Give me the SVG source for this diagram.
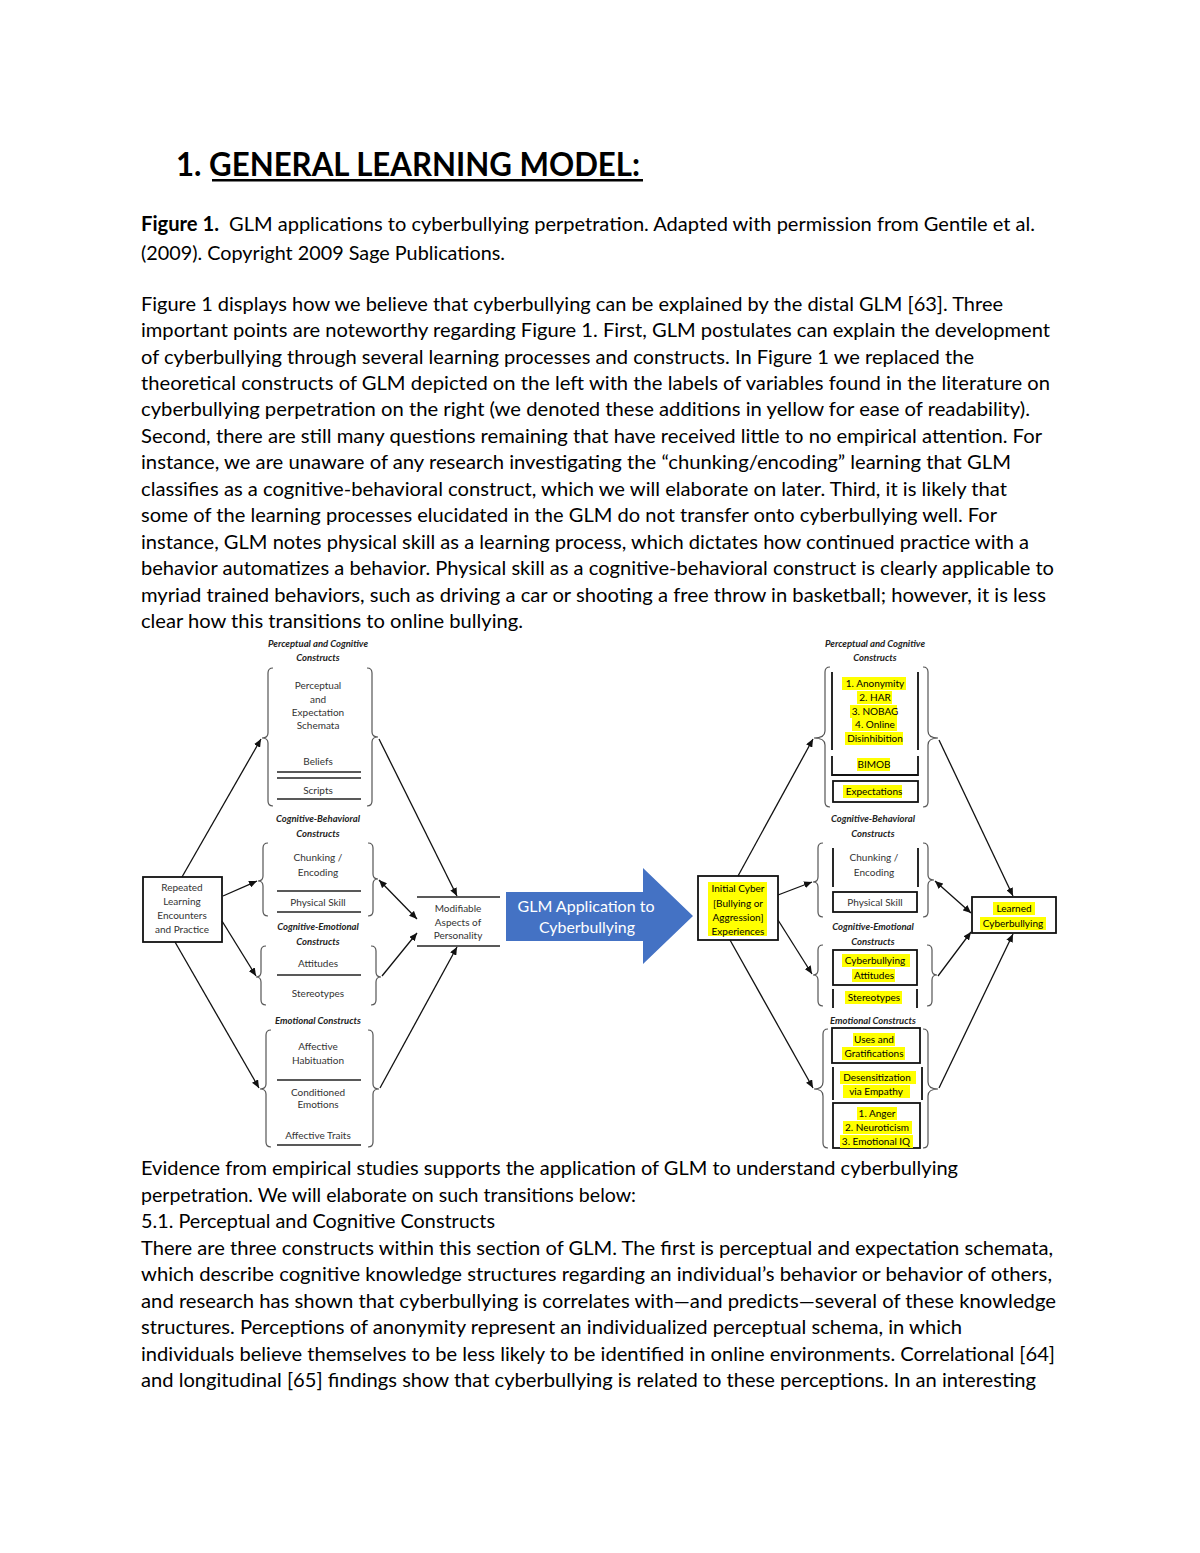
<svg xmlns="http://www.w3.org/2000/svg" width="1200" height="1553" viewBox="0 0 1200 1553">
<style>
.body{font-family:Lato,"Open Sans","Liberation Sans",sans-serif;font-size:20px;fill:#000}
.lbl{font-family:Lato,"Liberation Sans",sans-serif;font-size:10px;fill:#333;text-anchor:middle}
.lblb{font-family:Lato,"Liberation Sans",sans-serif;font-size:10px;fill:#000;text-anchor:middle}
.hdr{font-family:Lato,"Liberation Sans",sans-serif;font-size:9.5px;font-weight:bold;font-style:italic;fill:#222;text-anchor:middle}
.brace{fill:none;stroke:#555;stroke-width:1.2}
.sep{stroke:#222;stroke-width:1.4;fill:none}
.box{stroke:#111;stroke-width:1.8;fill:none}
.hl{fill:#ffff00}
.conn line{stroke:#111;stroke-width:1.3;marker-end:url(#ah)}
.conn line.both{marker-start:url(#ah)}
</style>
<defs>
<marker id="ah" markerUnits="userSpaceOnUse" markerWidth="8" markerHeight="7" refX="8" refY="3.5" orient="auto-start-reverse">
<path d="M0,0 L8,3.5 L0,7 z" fill="#111"/>
</marker>
</defs>
<rect width="1200" height="1553" fill="#fff"/>

<g id="text-top">
<text x="176" y="176" font-family="Lato,'Liberation Sans',sans-serif" font-weight="bold" font-size="31.5" textLength="464" lengthAdjust="spacingAndGlyphs">1. GENERAL LEARNING MODEL:</text>
<rect x="212" y="179" width="431" height="2.5" fill="#000"/>
<text x="141" y="231" class="body" font-weight="bold" textLength="78" lengthAdjust="spacingAndGlyphs">Figure 1.</text>
<text x="229" y="231" class="body" textLength="806" lengthAdjust="spacingAndGlyphs">GLM applications to cyberbullying perpetration. Adapted with permission from Gentile et al.</text>
<text x="141" y="260" class="body" textLength="364" lengthAdjust="spacingAndGlyphs">(2009). Copyright 2009 Sage Publications.</text>
<text x="141" y="311" class="body" textLength="862" lengthAdjust="spacingAndGlyphs">Figure 1 displays how we believe that cyberbullying can be explained by the distal GLM [63]. Three</text>
<text x="141" y="337" class="body" textLength="909" lengthAdjust="spacingAndGlyphs">important points are noteworthy regarding Figure 1. First, GLM postulates can explain the development</text>
<text x="141" y="364" class="body" textLength="833" lengthAdjust="spacingAndGlyphs">of cyberbullying through several learning processes and constructs. In Figure 1 we replaced the</text>
<text x="141" y="390" class="body" textLength="909" lengthAdjust="spacingAndGlyphs">theoretical constructs of GLM depicted on the left with the labels of variables found in the literature on</text>
<text x="141" y="416" class="body" textLength="889" lengthAdjust="spacingAndGlyphs">cyberbullying perpetration on the right (we denoted these additions in yellow for ease of readability).</text>
<text x="141" y="443" class="body" textLength="901" lengthAdjust="spacingAndGlyphs">Second, there are still many questions remaining that have received little to no empirical attention. For</text>
<text x="141" y="469" class="body" textLength="870" lengthAdjust="spacingAndGlyphs">instance, we are unaware of any research investigating the “chunking/encoding” learning that GLM</text>
<text x="141" y="496" class="body" textLength="866" lengthAdjust="spacingAndGlyphs">classifies as a cognitive-behavioral construct, which we will elaborate on later. Third, it is likely that</text>
<text x="141" y="522" class="body" textLength="856" lengthAdjust="spacingAndGlyphs">some of the learning processes elucidated in the GLM do not transfer onto cyberbullying well. For</text>
<text x="141" y="549" class="body" textLength="888" lengthAdjust="spacingAndGlyphs">instance, GLM notes physical skill as a learning process, which dictates how continued practice with a</text>
<text x="141" y="575" class="body" textLength="913" lengthAdjust="spacingAndGlyphs">behavior automatizes a behavior. Physical skill as a cognitive-behavioral construct is clearly applicable to</text>
<text x="141" y="602" class="body" textLength="905" lengthAdjust="spacingAndGlyphs">myriad trained behaviors, such as driving a car or shooting a free throw in basketball; however, it is less</text>
<text x="141" y="628" class="body" textLength="382" lengthAdjust="spacingAndGlyphs">clear how this transitions to online bullying.</text>
</g>

<g id="text-bottom">
<text x="141" y="1175" class="body" textLength="817" lengthAdjust="spacingAndGlyphs">Evidence from empirical studies supports the application of GLM to understand cyberbullying</text>
<text x="141" y="1202" class="body" textLength="495" lengthAdjust="spacingAndGlyphs">perpetration. We will elaborate on such transitions below:</text>
<text x="141" y="1228" class="body" textLength="354" lengthAdjust="spacingAndGlyphs">5.1. Perceptual and Cognitive Constructs</text>
<text x="141" y="1255" class="body" textLength="912" lengthAdjust="spacingAndGlyphs">There are three constructs within this section of GLM. The first is perceptual and expectation schemata,</text>
<text x="141" y="1281" class="body" textLength="911" lengthAdjust="spacingAndGlyphs">which describe cognitive knowledge structures regarding an individual’s behavior or behavior of others,</text>
<text x="141" y="1308" class="body" textLength="915" lengthAdjust="spacingAndGlyphs">and research has shown that cyberbullying is correlates with—and predicts—several of these knowledge</text>
<text x="141" y="1334" class="body" textLength="821" lengthAdjust="spacingAndGlyphs">structures. Perceptions of anonymity represent an individualized perceptual schema, in which</text>
<text x="141" y="1361" class="body" textLength="914" lengthAdjust="spacingAndGlyphs">individuals believe themselves to be less likely to be identified in online environments. Correlational [64]</text>
<text x="141" y="1387" class="body" textLength="895" lengthAdjust="spacingAndGlyphs">and longitudinal [65] findings show that cyberbullying is related to these perceptions. In an interesting</text>
</g>

<!-- LEFT DIAGRAM -->
<g id="left-headers">
<text x="318" y="647" class="hdr">Perceptual and Cognitive</text>
<text x="318" y="661" class="hdr">Constructs</text>
<text x="318" y="822" class="hdr">Cognitive-Behavioral</text>
<text x="318" y="837" class="hdr">Constructs</text>
<text x="318" y="930" class="hdr">Cognitive-Emotional</text>
<text x="318" y="945" class="hdr">Constructs</text>
<text x="318" y="1024" class="hdr">Emotional Constructs</text>
</g>

<g id="repeated-learning">
<rect x="143" y="877" width="79" height="65" class="box" stroke-width="1.5"/>
<text x="182" y="891" class="lbl">Repeated</text>
<text x="182" y="905" class="lbl">Learning</text>
<text x="182" y="919" class="lbl">Encounters</text>
<text x="182" y="933" class="lbl">and Practice</text>
</g>

<g id="l-perceptual">
<path class="brace" d="M273,668 Q268,668 268,673 L268,733 Q268,738 262,738 Q268,738 268,743 L268,801 Q268,806 273,806"/>
<path class="brace" d="M367,668 Q372,668 372,673 L372,732 Q372,737 378,737 Q372,737 372,742 L372,801 Q372,806 367,806"/>
<text x="318" y="689" class="lbl">Perceptual</text>
<text x="318" y="703" class="lbl">and</text>
<text x="318" y="716" class="lbl">Expectation</text>
<text x="318" y="729" class="lbl">Schemata</text>
<text x="318" y="765" class="lbl">Beliefs</text>
<line x1="277" y1="772" x2="361" y2="772" class="sep"/>
<line x1="277" y1="778" x2="361" y2="778" class="sep"/>
<text x="318" y="794" class="lbl">Scripts</text>
<line x1="277" y1="799" x2="361" y2="799" class="sep"/>
</g>

<g id="l-cogbeh">
<path class="brace" d="M268,843 Q263,843 263,848 L263,876 Q263,881 258,881 Q263,881 263,886 L263,911 Q263,916 268,916"/>
<path class="brace" d="M368,843 Q373,843 373,848 L373,874 Q373,879 378,879 Q373,879 373,884 L373,911 Q373,916 368,916"/>
<text x="318" y="861" class="lbl">Chunking /</text>
<text x="318" y="876" class="lbl">Encoding</text>
<line x1="277" y1="891" x2="361" y2="891" class="sep"/>
<text x="318" y="906" class="lbl">Physical Skill</text>
<line x1="277" y1="912" x2="361" y2="912" class="sep"/>
</g>

<g id="l-cogemo">
<path class="brace" d="M266,946 Q261,946 261,951 L261,972 Q261,977 256,977 Q261,977 261,982 L261,1000 Q261,1005 266,1005"/>
<path class="brace" d="M371,946 Q376,946 376,951 L376,972 Q376,977 381,977 Q376,977 376,982 L376,1000 Q376,1005 371,1005"/>
<text x="318" y="967" class="lbl">Attitudes</text>
<line x1="277" y1="975" x2="361" y2="975" class="sep"/>
<text x="318" y="997" class="lbl">Stereotypes</text>
</g>

<g id="l-emotional">
<path class="brace" d="M271,1030 Q266,1030 266,1035 L266,1084 Q266,1089 260,1089 Q266,1089 266,1094 L266,1142 Q266,1147 271,1147"/>
<path class="brace" d="M368,1030 Q373,1030 373,1035 L373,1084 Q373,1089 379,1089 Q373,1089 373,1094 L373,1142 Q373,1147 368,1147"/>
<text x="318" y="1050" class="lbl">Affective</text>
<text x="318" y="1064" class="lbl">Habituation</text>
<line x1="277" y1="1080" x2="361" y2="1080" class="sep"/>
<text x="318" y="1096" class="lbl">Conditioned</text>
<text x="318" y="1108" class="lbl">Emotions</text>
<text x="318" y="1139" class="lbl">Affective Traits</text>
<line x1="277" y1="1145" x2="361" y2="1145" class="sep"/>
</g>

<g id="modifiable">
<line x1="417" y1="897" x2="500" y2="897" class="sep"/>
<line x1="417" y1="946" x2="500" y2="946" class="sep"/>
<text x="458" y="912" class="lbl">Modifiable</text>
<text x="458" y="926" class="lbl">Aspects of</text>
<text x="458" y="939" class="lbl">Personality</text>
</g>

<g id="glm-arrow">
<polygon points="506,892 643,892 643,868 693,916 643,964 643,941 506,941" fill="#4472c4"/>
<text x="586" y="912" font-family="Lato,'Liberation Sans',sans-serif" font-size="16" fill="#fff" text-anchor="middle" textLength="137" lengthAdjust="spacingAndGlyphs">GLM Application to</text>
<text x="587" y="933" font-family="Lato,'Liberation Sans',sans-serif" font-size="16" fill="#fff" text-anchor="middle" textLength="96" lengthAdjust="spacingAndGlyphs">Cyberbullying</text>
</g>

<!-- RIGHT DIAGRAM -->
<g id="right-headers">
<text x="875" y="647" class="hdr">Perceptual and Cognitive</text>
<text x="875" y="661" class="hdr">Constructs</text>
<text x="873" y="822" class="hdr">Cognitive-Behavioral</text>
<text x="873" y="837" class="hdr">Constructs</text>
<text x="873" y="930" class="hdr">Cognitive-Emotional</text>
<text x="873" y="945" class="hdr">Constructs</text>
<text x="873" y="1024" class="hdr">Emotional Constructs</text>
</g>

<g id="initial-cyber">
<rect x="698" y="876" width="80" height="64" class="box"/>
<rect x="708" y="882" width="59" height="54" class="hl"/>
<text x="738" y="892" class="lblb">Initial Cyber</text>
<text x="738" y="907" class="lblb">[Bullying or</text>
<text x="738" y="921" class="lblb">Aggression]</text>
<text x="738" y="935" class="lblb">Experiences</text>
</g>

<g id="r-perceptual">
<path class="brace" d="M830,667 Q825,667 825,672 L825,731 Q825,738 814,738 Q825,738 825,745 L825,802 Q825,807 830,807"/>
<path class="brace" d="M923,667 Q928,667 928,672 L928,731 Q928,738 938,738 Q928,738 928,745 L928,802 Q928,807 923,807"/>
<path class="box" d="M832,672 L832,750 M832,756 L832,775 L918,775 L918,756 M918,750 L918,672"/>
<rect x="842" y="677" width="64" height="13" class="hl"/>
<rect x="857" y="691" width="35" height="13" class="hl"/>
<rect x="850" y="705" width="47" height="13" class="hl"/>
<rect x="852" y="718" width="45" height="13" class="hl"/>
<rect x="845" y="732" width="58" height="13" class="hl"/>
<rect x="857" y="758" width="33" height="13" class="hl"/>
<text x="875" y="687" class="lblb">1. Anonymity</text>
<text x="875" y="701" class="lblb">2. HAR</text>
<text x="875" y="715" class="lblb">3. NOBAG</text>
<text x="875" y="728" class="lblb">4. Online</text>
<text x="875" y="742" class="lblb">Disinhibition</text>
<text x="874" y="768" class="lblb">BIMOB</text>
<rect x="833" y="781" width="85" height="21" class="box"/>
<rect x="843" y="785" width="59" height="13" class="hl"/>
<text x="874" y="795" class="lblb">Expectations</text>
</g>

<g id="r-cogbeh">
<path class="brace" d="M823,843 Q818,843 818,848 L818,877 Q818,882 813,882 Q818,882 818,887 L818,912 Q818,917 823,917"/>
<path class="brace" d="M923,843 Q928,843 928,848 L928,875 Q928,880 934,880 Q928,880 928,885 L928,912 Q928,917 923,917"/>
<path class="box" d="M833,848 L833,887 M918,848 L918,887"/>
<text x="874" y="861" class="lbl">Chunking /</text>
<text x="874" y="876" class="lbl">Encoding</text>
<rect x="833" y="892" width="84" height="20" class="box"/>
<text x="875" y="906" class="lbl">Physical Skill</text>
</g>

<g id="r-cogemo">
<path class="brace" d="M823,945 Q818,945 818,950 L818,970 Q818,975 813,975 Q818,975 818,980 L818,1001 Q818,1006 823,1006"/>
<path class="brace" d="M927,945 Q932,945 932,950 L932,970 Q932,975 937,975 Q932,975 932,980 L932,1001 Q932,1006 927,1006"/>
<rect x="833" y="950" width="84" height="35" class="box"/>
<rect x="842" y="954" width="68" height="13" class="hl"/>
<rect x="852" y="969" width="43" height="13" class="hl"/>
<text x="875" y="964" class="lblb">Cyberbullying</text>
<text x="874" y="979" class="lblb">Attitudes</text>
<path class="box" d="M833,989 L833,1008 M917,989 L917,1008"/>
<rect x="845" y="991" width="57" height="13" class="hl"/>
<text x="874" y="1001" class="lblb">Stereotypes</text>
</g>

<g id="r-emotional">
<path class="brace" d="M828,1029 Q823,1029 823,1034 L823,1082 Q823,1089 814,1089 Q823,1089 823,1096 L823,1143 Q823,1148 828,1148"/>
<path class="brace" d="M923,1029 Q928,1029 928,1034 L928,1082 Q928,1089 938,1089 Q928,1089 928,1096 L928,1143 Q928,1148 923,1148"/>
<rect x="832" y="1028" width="88" height="35" class="box"/>
<rect x="853" y="1033" width="42" height="13" class="hl"/>
<rect x="842" y="1047" width="63" height="13" class="hl"/>
<text x="874" y="1043" class="lblb">Uses and</text>
<text x="874" y="1057" class="lblb">Gratifications</text>
<path class="box" d="M833,1067 L833,1100 M922,1067 L922,1100"/>
<rect x="840" y="1071" width="76" height="13" class="hl"/>
<rect x="843" y="1085" width="67" height="13" class="hl"/>
<text x="877" y="1081" class="lblb">Desensitization</text>
<text x="876" y="1095" class="lblb">via Empathy</text>
<rect x="833" y="1103" width="87" height="45" class="box"/>
<rect x="857" y="1107" width="40" height="13" class="hl"/>
<rect x="843" y="1121" width="69" height="13" class="hl"/>
<rect x="840" y="1135" width="73" height="13" class="hl"/>
<text x="877" y="1117" class="lblb">1. Anger</text>
<text x="877" y="1131" class="lblb">2. Neuroticism</text>
<text x="876" y="1145" class="lblb">3. Emotional IQ</text>
</g>

<g id="learned-cyberbullying">
<rect x="972" y="897" width="84" height="36" class="box"/>
<rect x="993" y="902" width="42" height="13" class="hl"/>
<rect x="980" y="917" width="66" height="13" class="hl"/>
<text x="1014" y="912" class="lblb">Learned</text>
<text x="1013" y="927" class="lblb">Cyberbullying</text>
</g>

<g id="connectors" class="conn">
<!-- left -->
<line x1="182" y1="877" x2="261" y2="739"/>
<line x1="223" y1="896" x2="257" y2="881"/>
<line x1="222" y1="921" x2="256" y2="976"/>
<line x1="175" y1="942" x2="259" y2="1088"/>
<line x1="379" y1="739" x2="457" y2="896"/>
<line class="both" x1="379" y1="880" x2="417" y2="919"/>
<line x1="382" y1="976" x2="417" y2="933"/>
<line x1="380" y1="1088" x2="457" y2="947"/>
<!-- right -->
<line x1="738" y1="876" x2="813" y2="739"/>
<line x1="778" y1="895" x2="812" y2="882"/>
<line x1="778" y1="920" x2="812" y2="974"/>
<line x1="730" y1="940" x2="813" y2="1088"/>
<line x1="939" y1="740" x2="1013" y2="896"/>
<line class="both" x1="935" y1="881" x2="971" y2="913"/>
<line x1="938" y1="976" x2="971" y2="932"/>
<line x1="939" y1="1088" x2="1013" y2="934"/>
</g>
</svg>
